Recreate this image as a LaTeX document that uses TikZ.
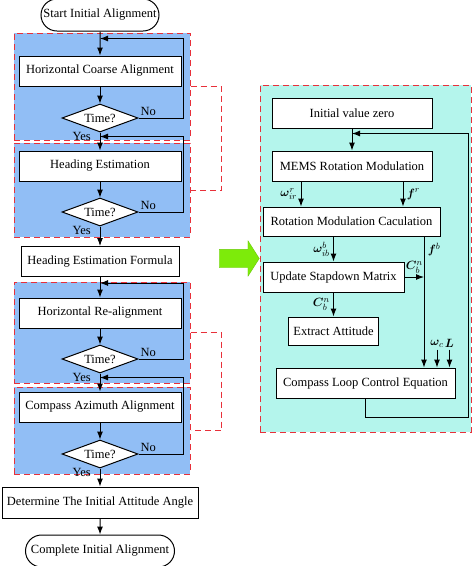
\documentclass[tikz,border=0pt]{standalone}
\usepackage{fontspec}
\setmainfont{Liberation Serif}
\usepackage{bm}
\usetikzlibrary{shapes.geometric,shapes.misc,shapes.arrows,arrows.meta}

\definecolor{grpblue}{RGB}{145,190,245}
\definecolor{grpcyan}{RGB}{180,245,236}
\definecolor{dashred}{RGB}{232,48,58}
\definecolor{arrgreen}{RGB}{125,235,10}

\tikzset{
  procbox/.style={draw, line width=1pt, fill=white, minimum height=30pt, inner sep=2pt},
  termbox/.style={draw, line width=1pt, fill=white, rounded rectangle, minimum height=32pt, inner sep=2pt},
  timebox/.style={draw, line width=1pt, fill=white, diamond, aspect=2.7, inner sep=1pt, minimum width=76pt, minimum height=28pt},
  grpbox/.style={draw=dashred, line width=1pt, dash pattern=on 6pt off 4pt, fill=grpblue, inner sep=0pt},
  redlink/.style={draw=dashred, line width=1pt, dash pattern=on 6pt off 4pt},
  flow/.style={line width=1pt, -{Latex[length=8pt,width=6pt]}},
  lbl/.style={inner sep=2pt},
}

\begin{document}
\begin{tikzpicture}[x=1pt,y=-1pt,font=\fontsize{12.5}{14}\selectfont]
\useasboundingbox (0,0) rectangle (474,566);

\node[grpbox, minimum width=176pt, minimum height=107pt] (g1) at (102,86.5) {};
\node[grpbox, minimum width=176pt, minimum height=94pt] (g2) at (102,190) {};
\node[grpbox, minimum width=176pt, minimum height=101pt] (g3) at (102,332.5) {};
\node[grpbox, minimum width=176pt, minimum height=87pt] (g4) at (102,430.5) {};
\node[grpbox, fill=grpcyan, minimum width=211pt, minimum height=347pt] (g5) at (365.5,258.5) {};

\node[termbox, minimum width=122pt] (start) at (100,15) {Start Initial Alignment};
\node[procbox, minimum width=162pt] (hca) at (100,71) {Horizontal Coarse Alignment};
\node[timebox] (t1) at (100,118) {Time?};
\node[procbox, minimum width=162pt] (he) at (100,166) {Heading Estimation};
\node[timebox] (t2) at (100,212) {Time?};
\node[procbox, minimum width=158pt] (hef) at (100,261.5) {Heading Estimation Formula};
\node[procbox, minimum width=162pt] (hra) at (100,313) {Horizontal Re-alignment};
\node[timebox] (t3) at (100,359) {Time?};
\node[procbox, minimum width=162pt] (caa) at (100,407) {Compass Azimuth Alignment};
\node[timebox] (t4) at (100,454) {Time?};
\node[procbox, minimum width=196pt, minimum height=31pt] (dia) at (100,502.5) {Determine The Initial Attitude Angle};
\node[termbox, minimum width=153pt] (done) at (100,551) {Complete Initial Alignment};

\node[procbox, minimum width=160pt] (ivz) at (352,113) {Initial value zero};
\node[procbox, minimum width=160pt] (mems) at (352,166) {MEMS Rotation Modulation};
\node[procbox, minimum width=177pt, minimum height=29pt] (rmc) at (351.5,221.5) {Rotation Modulation Caculation};
\node[procbox, minimum width=141pt] (usm) at (333.5,277) {Update Stapdown Matrix};
\node[procbox, minimum width=90pt, minimum height=28pt] (ea) at (333.5,331) {Extract Attitude};
\node[procbox, minimum width=179pt] (clc) at (365.5,383) {Compass Loop Control Equation};

\node[single arrow, fill=arrgreen, draw=arrgreen!85!black, line width=0.4pt, inner xsep=0pt, inner ysep=9pt,
  single arrow head extend=8.5pt, single arrow tip angle=115, minimum height=40pt, anchor=tip] (go) at (g5.west) {};

\draw[redlink] (g1.east) -- ++(31,0) |- (g2.east);
\draw[redlink] (g3.east) -- ++(31,0) |- (g4.east);

\draw[flow] (start) -- (hca);
\draw[flow] (hca) -- (t1);
\draw[flow] (t1) -- (he);
\draw[flow] (he) -- (t2);
\draw[flow] (t2) -- (hef);
\draw[flow] (hef) -- (hra);
\draw[flow] (hra) -- (t3);
\draw[flow] (t3) -- (caa);
\draw[flow] (caa) -- (t4);
\draw[flow] (t4) -- (dia);
\draw[flow] (dia) -- (done);

\coordinate (in1) at ([yshift=-7pt]start.south);
\coordinate (in2) at ([yshift=-4pt]t1.south);
\coordinate (in3) at ([yshift=-6pt]hef.south);
\coordinate (in4) at ([yshift=-4pt]t3.south);
\draw[flow] (t1.east) -| ([xshift=83pt]in1) -- (in1);
\draw[flow] (t2.east) -| ([xshift=83pt]in2) -- (in2);
\draw[flow] (t3.east) -| ([xshift=83pt]in3) -- (in3);
\draw[flow] (t4.east) -| ([xshift=83pt]in4) -- (in4);
\foreach \t in {t1,t2,t3,t4}{
  \node[lbl, anchor=south west] at (\t.east) {No};
  \node[lbl, anchor=east] at ([xshift=-7pt,yshift=-4pt]\t.south) {Yes};
}

\draw[flow] (ivz) -- (mems);
\coordinate (fbin) at ([yshift=-5pt]ivz.south);
\draw[flow] (clc.south) -- ++(0,19) -| ([xshift=116pt]fbin) -- (fbin);
\draw[flow] ([xshift=-51pt]mems.south) -- ([xshift=-51pt]mems.south |- rmc.north) node[midway, left] {$\bm{\omega}_{ir}^{r}$};
\draw[flow] ([xshift=51pt]mems.south) -- ([xshift=51pt]mems.south |- rmc.north) node[midway, right] {$\bm{f}^{r}$};
\draw[flow] (rmc.south -| usm.north) -- (usm.north) node[midway, left] {$\bm{\omega}_{ib}^{b}$};
\draw[flow] (usm) -- (ea) node[midway, left] {$\bm{C}_{b}^{n}$};
\coordinate (fbtop) at ([xshift=72.5pt]rmc.south);
\draw[flow] (fbtop) -- (fbtop |- clc.north) node[pos=.1, right] {$\bm{f}^{b}$};
\draw[flow] (usm.east) -- (usm.east -| fbtop) node[midway, above] {$\bm{C}_{b}^{n}$};
\coordinate[label={[lbl]above:$\bm{\omega}_{c}$}] (wc) at ([xshift=71.5pt,yshift=18pt]clc.north);
\coordinate[label={[lbl]above:$\bm{L}$}] (lat) at ([xshift=84pt,yshift=18pt]clc.north);
\draw[flow] (wc) -- (wc |- clc.north);
\draw[flow] (lat) -- (lat |- clc.north);
\end{tikzpicture}
\end{document}
